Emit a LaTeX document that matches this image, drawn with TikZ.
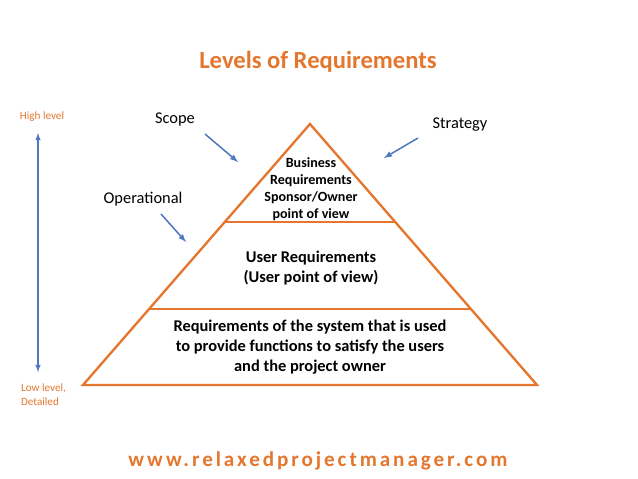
\documentclass[tikz,border=0pt]{standalone}
\usepackage{fontspec}
\setmainfont{Carlito}
\definecolor{org}{RGB}{228,118,46}
\definecolor{blu}{RGB}{80,120,190}
\begin{document}
\begin{tikzpicture}[x=0.03cm,y=-0.03cm,
  tri/.style={draw=org,line width=2pt,line join=miter},
  arr/.style={draw=blu,line width=1.3pt,-latex},
  lbl/.style={font=\fontsize{14}{16}\selectfont,text=black},
  inner/.style={font=\bfseries\fontsize{14}{17}\selectfont,align=center}]
\useasboundingbox (0,0) rectangle (638,479);
\coordinate (A) at (310,124);
\coordinate (L) at (83,385);
\coordinate (R) at (537,385);
\draw[tri] (L) -- (A) -- (R) -- cycle;
\draw[tri] (224,222) -- (396,222);
\draw[tri] (148,309) -- (470,309);
\node[font=\bfseries\fontsize{21}{24}\selectfont,text=org] (title) at (318,62) {Levels of Requirements};
\node[inner,font=\bfseries\fontsize{12}{14.5}\selectfont] (biz) at (311,189) {Business\\Requirements\\Sponsor/Owner\\point of view};
\node[inner] (usr) at (311,268) {User Requirements\\(User point of view)};
\node[inner] (sys) at (310,347) {Requirements of the system that is used\\to provide functions to satisfy the users\\and the project owner};
\coordinate (vt) at (38,133);
\coordinate (vb) at (38,372);
\draw[draw=blu,line width=1.1pt,latex-latex] (vt) -- (vb);
\node[text=org,font=\fontsize{9.5}{11}\selectfont] (hi) at (42,117) {High level};
\node[text=org,font=\fontsize{9.5}{12}\selectfont,align=left,anchor=north west] (lo) at (17,380) {Low level,\\Detailed};
\node[lbl] (scope) at (175,119) {Scope};
\node[lbl] (strat) at (460,125) {Strategy};
\node[lbl] (oper) at (143,199) {Operational};
\coordinate (s1) at (205,134); \coordinate (s2) at (238,162);
\coordinate (t1) at (418,138); \coordinate (t2) at (384,158);
\coordinate (o1) at (161,214); \coordinate (o2) at (186,242);
\draw[arr] (s1) -- (s2);
\draw[arr] (t1) -- (t2);
\draw[arr] (o1) -- (o2);
\node[text=org,font=\bfseries\fontsize{18}{20}\selectfont,inner sep=0] (url) at (318,461) {\addfontfeature{LetterSpace=14}www.relaxedprojectmanager.com};
\end{tikzpicture}
\end{document}
